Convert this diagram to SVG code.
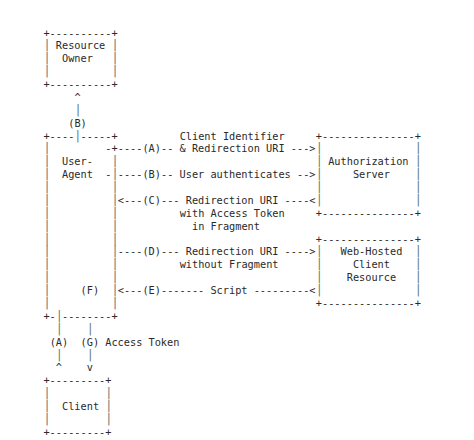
<svg xmlns="http://www.w3.org/2000/svg" width="474" height="440" viewBox="0 0 474 440">
<style>
text { font-family: "DejaVu Sans Mono", "Liberation Mono", monospace; font-size: 10.28px; fill: #2a2a2a; white-space: pre; }
.p { font-size: 11.8px; letter-spacing: -0.915px; fill: #66807e; }
</style>
<rect width="474" height="440" fill="#ffffff"/>
<g id="resource-owner">
<text x="43.45" y="36.5">+----------+</text>
<text x="43.45" y="49.38"><tspan class="p">|</tspan> Resource <tspan class="p">|</tspan></text>
<text x="43.45" y="62.26"><tspan class="p">|</tspan>  Owner   <tspan class="p">|</tspan></text>
<text x="43.45" y="75.14"><tspan class="p">|</tspan>          <tspan class="p">|</tspan></text>
<text x="43.45" y="88.02">+----------+</text>
</g>
<g id="user-agent">
<text x="43.45" y="139.54">+----<tspan class="p">|</tspan>-----+</text>
<text x="43.45" y="152.42"><tspan class="p">|</tspan>         -+</text>
<text x="43.45" y="165.3"><tspan class="p">|</tspan>  User-   <tspan class="p">|</tspan></text>
<text x="43.45" y="178.18"><tspan class="p">|</tspan>  Agent  -<tspan class="p">|</tspan></text>
<text x="43.45" y="191.06"><tspan class="p">|</tspan>          <tspan class="p">|</tspan></text>
<text x="43.45" y="203.94"><tspan class="p">|</tspan>          <tspan class="p">|</tspan></text>
<text x="43.45" y="216.82"><tspan class="p">|</tspan>          <tspan class="p">|</tspan></text>
<text x="43.45" y="229.7"><tspan class="p">|</tspan>          <tspan class="p">|</tspan></text>
<text x="43.45" y="242.58"><tspan class="p">|</tspan>          <tspan class="p">|</tspan></text>
<text x="43.45" y="255.46"><tspan class="p">|</tspan>          <tspan class="p">|</tspan></text>
<text x="43.45" y="268.34"><tspan class="p">|</tspan>          <tspan class="p">|</tspan></text>
<text x="43.45" y="281.22"><tspan class="p">|</tspan>          <tspan class="p">|</tspan></text>
<text x="43.45" y="294.1"><tspan class="p">|</tspan>     (F)  <tspan class="p">|</tspan></text>
<text x="43.45" y="306.98"><tspan class="p">|</tspan>          <tspan class="p">|</tspan></text>
<text x="43.45" y="319.86">+-<tspan class="p">|</tspan>--------+</text>
</g>
<g id="authorization-server">
<text x="315.81" y="139.54">+---------------+</text>
<text x="315.81" y="152.42"><tspan class="p">|</tspan>               <tspan class="p">|</tspan></text>
<text x="315.81" y="165.3"><tspan class="p">|</tspan> Authorization <tspan class="p">|</tspan></text>
<text x="315.81" y="178.18"><tspan class="p">|</tspan>     Server    <tspan class="p">|</tspan></text>
<text x="315.81" y="191.06"><tspan class="p">|</tspan>               <tspan class="p">|</tspan></text>
<text x="315.81" y="203.94"><tspan class="p">|</tspan>               <tspan class="p">|</tspan></text>
<text x="315.81" y="216.82">+---------------+</text>
</g>
<g id="web-hosted-client-resource">
<text x="315.81" y="242.58">+---------------+</text>
<text x="315.81" y="255.46"><tspan class="p">|</tspan>   Web-Hosted  <tspan class="p">|</tspan></text>
<text x="315.81" y="268.34"><tspan class="p">|</tspan>     Client    <tspan class="p">|</tspan></text>
<text x="315.81" y="281.22"><tspan class="p">|</tspan>    Resource   <tspan class="p">|</tspan></text>
<text x="315.81" y="294.1"><tspan class="p">|</tspan>               <tspan class="p">|</tspan></text>
<text x="315.81" y="306.98">+---------------+</text>
</g>
<g id="client">
<text x="43.45" y="384.26">+---------+</text>
<text x="43.45" y="397.14"><tspan class="p">|</tspan>         <tspan class="p">|</tspan></text>
<text x="43.45" y="410.02"><tspan class="p">|</tspan>  Client <tspan class="p">|</tspan></text>
<text x="43.45" y="422.9"><tspan class="p">|</tspan>         <tspan class="p">|</tspan></text>
<text x="43.45" y="435.78">+---------+</text>
</g>
<g id="connectors">
<text x="74.4" y="100.9">^</text>
<text x="74.4" y="113.78"><tspan class="p">|</tspan></text>
<text x="68.21" y="126.66">(B)</text>
<text x="179.63" y="139.54">Client Identifier</text>
<text x="117.73" y="152.42">----(A)-- &amp; Redirection URI ---&gt;</text>
<text x="117.73" y="178.18">----(B)-- User authenticates --&gt;</text>
<text x="117.73" y="203.94">&lt;---(C)--- Redirection URI ----&lt;</text>
<text x="179.63" y="216.82">with Access Token</text>
<text x="192.01" y="229.7">in Fragment</text>
<text x="117.73" y="255.46">----(D)--- Redirection URI ----&gt;</text>
<text x="179.63" y="268.34">without Fragment</text>
<text x="117.73" y="294.1">&lt;---(E)------- Script ---------&lt;</text>
<text x="55.83" y="332.74"><tspan class="p">|</tspan>    <tspan class="p">|</tspan></text>
<text x="49.64" y="345.62">(A)  (G) Access Token</text>
<text x="55.83" y="358.5"><tspan class="p">|</tspan>    <tspan class="p">|</tspan></text>
<text x="55.83" y="371.38">^    v</text>
</g>
</svg>
